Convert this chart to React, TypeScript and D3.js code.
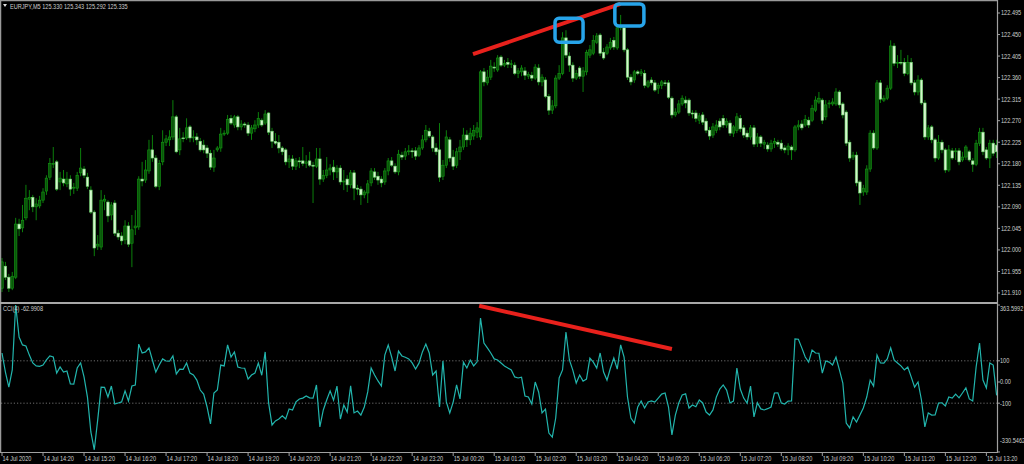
import * as d3 from "d3";

// EURJPY M5 candles, bar 0 = 14 Jul 13:20
const opens = [
  121.920, 121.966, 121.943, 121.920, 121.943, 122.054, 122.046, 122.067, 122.106, 122.110,
  122.090, 122.092, 122.104, 122.123, 122.152, 122.179, 122.184, 122.142, 122.148, 122.138,
  122.148, 122.129, 122.129, 122.161, 122.169, 122.152, 122.125, 122.079, 122.008, 122.006,
  122.102, 122.100, 122.073, 122.098, 122.035, 122.029, 122.021, 122.050, 122.014, 122.046,
  122.048, 122.148, 122.146, 122.165, 122.209, 122.192, 122.133, 122.184, 122.225, 122.230,
  122.236, 122.278, 122.209, 122.234, 122.234, 122.257, 122.234, 122.236, 122.227, 122.219,
  122.213, 122.202, 122.173, 122.209, 122.213, 122.242, 122.244, 122.275, 122.261, 122.278,
  122.257, 122.263, 122.261, 122.244, 122.253, 122.261, 122.271, 122.265, 122.286, 122.248,
  122.227, 122.225, 122.213, 122.209, 122.184, 122.190, 122.175, 122.186, 122.186, 122.181,
  122.186, 122.177, 122.175, 122.190, 122.148, 122.156, 122.167, 122.173, 122.163, 122.171,
  122.142, 122.148, 122.136, 122.161, 122.129, 122.127, 122.115, 122.119, 122.140, 122.163,
  122.154, 122.148, 122.142, 122.165, 122.186, 122.175, 122.163, 122.198, 122.196, 122.205,
  122.207, 122.207, 122.198, 122.213, 122.230, 122.248, 122.236, 122.213, 122.209, 122.154,
  122.177, 122.230, 122.194, 122.177, 122.205, 122.215, 122.240, 122.230, 122.238, 122.246,
  122.236, 122.372, 122.349, 122.361, 122.382, 122.376, 122.403, 122.386, 122.392, 122.388,
  122.386, 122.369, 122.372, 122.374, 122.363, 122.365, 122.359, 122.380, 122.351, 122.355,
  122.321, 122.292, 122.301, 122.359, 122.369, 122.443, 122.405, 122.386, 122.359, 122.380,
  122.363, 122.372, 122.407, 122.411, 122.434, 122.449, 122.413, 122.411, 122.422, 122.438,
  122.422, 122.464, 122.464, 122.418, 122.361, 122.355, 122.372, 122.369, 122.369, 122.342,
  122.355, 122.349, 122.338, 122.344, 122.349, 122.349, 122.317, 122.282, 122.288, 122.305,
  122.313, 122.313, 122.286, 122.286, 122.271, 122.282, 122.269, 122.250, 122.240, 122.250,
  122.269, 122.275, 122.261, 122.265, 122.244, 122.250, 122.275, 122.255, 122.244, 122.236,
  122.255, 122.223, 122.236, 122.221, 122.219, 122.211, 122.223, 122.225, 122.223, 122.213,
  122.209, 122.215, 122.209, 122.257, 122.263, 122.261, 122.271, 122.271, 122.292, 122.309,
  122.313, 122.278, 122.305, 122.305, 122.305, 122.330, 122.305, 122.288, 122.225, 122.194,
  122.198, 122.142, 122.121, 122.121, 122.169, 122.244, 122.213, 122.349, 122.313, 122.317,
  122.338, 122.426, 122.390, 122.392, 122.392, 122.369, 122.392, 122.349, 122.330, 122.355,
  122.307, 122.236, 122.257, 122.230, 122.192, 122.225, 122.209, 122.167, 122.207, 122.205,
  122.207, 122.188, 122.194, 122.205, 122.186, 122.179, 122.223, 122.246, 122.209, 122.192,
  122.223, 122.219,
];
const closes = [
  121.975, 121.943, 121.920, 121.945, 122.054, 122.044, 122.062, 122.108, 122.110, 122.090,
  122.096, 122.104, 122.121, 122.150, 122.181, 122.181, 122.127, 122.150, 122.140, 122.148,
  122.127, 122.131, 122.156, 122.171, 122.156, 122.133, 122.079, 122.004, 122.012, 122.104,
  122.106, 122.071, 122.094, 122.035, 122.027, 122.019, 122.050, 122.012, 122.042, 122.050,
  122.148, 122.144, 122.167, 122.209, 122.192, 122.133, 122.181, 122.225, 122.232, 122.236,
  122.278, 122.205, 122.232, 122.233, 122.255, 122.234, 122.236, 122.230, 122.209, 122.209,
  122.202, 122.173, 122.192, 122.213, 122.242, 122.244, 122.273, 122.265, 122.278, 122.257,
  122.263, 122.261, 122.244, 122.255, 122.261, 122.275, 122.261, 122.284, 122.246, 122.227,
  122.223, 122.213, 122.205, 122.184, 122.190, 122.175, 122.186, 122.184, 122.181, 122.184,
  122.177, 122.175, 122.190, 122.148, 122.156, 122.167, 122.171, 122.163, 122.171, 122.142,
  122.144, 122.136, 122.161, 122.129, 122.127, 122.115, 122.121, 122.138, 122.165, 122.152,
  122.146, 122.140, 122.165, 122.186, 122.177, 122.163, 122.200, 122.194, 122.205, 122.207,
  122.205, 122.196, 122.213, 122.230, 122.250, 122.238, 122.213, 122.205, 122.152, 122.177,
  122.236, 122.192, 122.175, 122.205, 122.215, 122.240, 122.230, 122.244, 122.250, 122.255,
  122.372, 122.351, 122.361, 122.384, 122.380, 122.401, 122.386, 122.390, 122.388, 122.389,
  122.369, 122.374, 122.380, 122.365, 122.367, 122.359, 122.382, 122.351, 122.361, 122.321,
  122.292, 122.301, 122.359, 122.369, 122.443, 122.407, 122.386, 122.359, 122.369, 122.363,
  122.374, 122.413, 122.418, 122.438, 122.447, 122.411, 122.401, 122.424, 122.434, 122.424,
  122.464, 122.468, 122.418, 122.361, 122.351, 122.372, 122.369, 122.372, 122.344, 122.351,
  122.349, 122.334, 122.344, 122.351, 122.348, 122.319, 122.282, 122.288, 122.305, 122.317,
  122.307, 122.286, 122.284, 122.275, 122.280, 122.267, 122.250, 122.238, 122.257, 122.261,
  122.257, 122.261, 122.269, 122.244, 122.257, 122.278, 122.253, 122.240, 122.236, 122.255,
  122.221, 122.236, 122.223, 122.225, 122.211, 122.223, 122.227, 122.221, 122.211, 122.209,
  122.217, 122.209, 122.257, 122.261, 122.255, 122.273, 122.261, 122.296, 122.313, 122.317,
  122.271, 122.303, 122.307, 122.309, 122.330, 122.303, 122.282, 122.223, 122.192, 122.198,
  122.140, 122.119, 122.129, 122.169, 122.244, 122.213, 122.349, 122.315, 122.317, 122.338,
  122.426, 122.390, 122.392, 122.391, 122.369, 122.392, 122.349, 122.330, 122.355, 122.307,
  122.236, 122.255, 122.230, 122.192, 122.225, 122.209, 122.167, 122.209, 122.192, 122.207,
  122.184, 122.194, 122.215, 122.188, 122.179, 122.223, 122.246, 122.205, 122.192, 122.223,
  122.202, 122.205,
];
const highs = [
  121.983, 121.975, 121.950, 121.954, 122.067, 122.065, 122.094, 122.136, 122.125, 122.115,
  122.108, 122.113, 122.129, 122.156, 122.192, 122.215, 122.188, 122.163, 122.167, 122.163,
  122.156, 122.140, 122.163, 122.213, 122.175, 122.161, 122.133, 122.083, 122.031, 122.125,
  122.115, 122.104, 122.100, 122.104, 122.042, 122.037, 122.062, 122.058, 122.073, 122.083,
  122.154, 122.184, 122.188, 122.230, 122.240, 122.198, 122.188, 122.250, 122.240, 122.250,
  122.313, 122.282, 122.255, 122.246, 122.275, 122.261, 122.250, 122.244, 122.234, 122.230,
  122.219, 122.209, 122.209, 122.217, 122.255, 122.250, 122.282, 122.282, 122.282, 122.282,
  122.271, 122.267, 122.267, 122.261, 122.271, 122.288, 122.275, 122.292, 122.288, 122.255,
  122.244, 122.240, 122.217, 122.213, 122.198, 122.198, 122.192, 122.194, 122.215, 122.198,
  122.205, 122.184, 122.213, 122.213, 122.167, 122.194, 122.179, 122.188, 122.177, 122.177,
  122.167, 122.156, 122.167, 122.167, 122.136, 122.133, 122.125, 122.146, 122.171, 122.171,
  122.163, 122.154, 122.171, 122.192, 122.194, 122.181, 122.209, 122.205, 122.213, 122.219,
  122.213, 122.215, 122.219, 122.240, 122.261, 122.255, 122.240, 122.223, 122.265, 122.188,
  122.250, 122.236, 122.209, 122.213, 122.230, 122.255, 122.250, 122.255, 122.261, 122.267,
  122.376, 122.380, 122.376, 122.397, 122.392, 122.407, 122.407, 122.397, 122.401, 122.397,
  122.392, 122.380, 122.386, 122.382, 122.372, 122.372, 122.388, 122.388, 122.367, 122.361,
  122.326, 122.313, 122.365, 122.386, 122.455, 122.459, 122.413, 122.392, 122.376, 122.384,
  122.382, 122.418, 122.428, 122.449, 122.453, 122.453, 122.422, 122.430, 122.443, 122.445,
  122.470, 122.491, 122.468, 122.422, 122.367, 122.376, 122.376, 122.378, 122.376, 122.355,
  122.361, 122.355, 122.349, 122.355, 122.355, 122.355, 122.321, 122.296, 122.313, 122.323,
  122.321, 122.317, 122.292, 122.292, 122.286, 122.288, 122.275, 122.257, 122.265, 122.271,
  122.275, 122.282, 122.275, 122.271, 122.261, 122.286, 122.282, 122.261, 122.250, 122.261,
  122.261, 122.244, 122.240, 122.230, 122.225, 122.230, 122.234, 122.230, 122.230, 122.219,
  122.223, 122.219, 122.261, 122.271, 122.271, 122.282, 122.278, 122.303, 122.321, 122.330,
  122.317, 122.313, 122.313, 122.317, 122.338, 122.334, 122.309, 122.292, 122.230, 122.205,
  122.205, 122.146, 122.136, 122.177, 122.250, 122.250, 122.355, 122.355, 122.323, 122.344,
  122.438, 122.432, 122.407, 122.418, 122.401, 122.407, 122.401, 122.355, 122.365, 122.359,
  122.313, 122.261, 122.261, 122.234, 122.240, 122.230, 122.213, 122.219, 122.213, 122.213,
  122.213, 122.205, 122.219, 122.209, 122.192, 122.230, 122.255, 122.255, 122.215, 122.230,
  122.230, 122.230,
];
const lows = [
  121.912, 121.937, 121.912, 121.916, 121.939, 122.029, 122.037, 122.062, 122.083, 122.079,
  122.062, 122.087, 122.098, 122.115, 122.146, 122.171, 122.123, 122.125, 122.133, 122.131,
  122.113, 122.117, 122.123, 122.154, 122.150, 122.127, 122.075, 121.987, 122.000, 122.000,
  122.083, 122.058, 122.062, 122.029, 122.021, 122.010, 122.012, 122.006, 121.964, 122.031,
  122.042, 122.133, 122.140, 122.159, 122.184, 122.129, 122.125, 122.177, 122.217, 122.217,
  122.230, 122.202, 122.198, 122.225, 122.230, 122.225, 122.225, 122.219, 122.205, 122.202,
  122.192, 122.167, 122.163, 122.205, 122.205, 122.238, 122.240, 122.261, 122.255, 122.250,
  122.250, 122.255, 122.238, 122.230, 122.246, 122.255, 122.257, 122.261, 122.240, 122.213,
  122.219, 122.202, 122.198, 122.177, 122.171, 122.167, 122.167, 122.171, 122.175, 122.171,
  122.173, 122.098, 122.171, 122.136, 122.142, 122.150, 122.156, 122.146, 122.150, 122.136,
  122.125, 122.121, 122.129, 122.104, 122.115, 122.094, 122.108, 122.098, 122.133, 122.146,
  122.136, 122.131, 122.136, 122.156, 122.173, 122.159, 122.156, 122.188, 122.188, 122.198,
  122.192, 122.188, 122.194, 122.209, 122.225, 122.234, 122.205, 122.198, 122.142, 122.146,
  122.171, 122.184, 122.167, 122.171, 122.188, 122.209, 122.215, 122.219, 122.230, 122.234,
  122.230, 122.342, 122.344, 122.355, 122.372, 122.372, 122.382, 122.382, 122.380, 122.380,
  122.365, 122.359, 122.363, 122.355, 122.357, 122.353, 122.355, 122.344, 122.342, 122.317,
  122.282, 122.284, 122.296, 122.355, 122.365, 122.401, 122.372, 122.351, 122.355, 122.357,
  122.330, 122.365, 122.401, 122.407, 122.430, 122.405, 122.397, 122.407, 122.418, 122.418,
  122.418, 122.459, 122.413, 122.355, 122.344, 122.349, 122.365, 122.363, 122.338, 122.338,
  122.344, 122.330, 122.326, 122.336, 122.342, 122.315, 122.275, 122.278, 122.284, 122.301,
  122.296, 122.280, 122.275, 122.267, 122.263, 122.261, 122.244, 122.230, 122.234, 122.244,
  122.250, 122.255, 122.255, 122.238, 122.236, 122.244, 122.246, 122.234, 122.230, 122.230,
  122.215, 122.215, 122.215, 122.211, 122.205, 122.205, 122.213, 122.215, 122.207, 122.202,
  122.198, 122.188, 122.205, 122.250, 122.250, 122.257, 122.255, 122.267, 122.288, 122.305,
  122.263, 122.271, 122.296, 122.301, 122.301, 122.296, 122.275, 122.217, 122.184, 122.188,
  122.133, 122.094, 122.113, 122.115, 122.163, 122.209, 122.209, 122.307, 122.309, 122.313,
  122.334, 122.384, 122.380, 122.386, 122.363, 122.365, 122.344, 122.323, 122.323, 122.303,
  122.230, 122.230, 122.223, 122.184, 122.188, 122.202, 122.161, 122.163, 122.188, 122.188,
  122.177, 122.184, 122.188, 122.184, 122.163, 122.175, 122.217, 122.198, 122.188, 122.171,
  122.196, 122.192,
];

// CCI(4), one value per bar
const cciValues = [
  137, 47, -24, 57, 363.6, 212, 175, 170, 127, 90,
  76, 74, 80, 104, 123, 118, 42, 71, 47, 52,
  -9, -10, 66, 90, 24, -71, -236, -320, -179, -24,
  -25, -71, -19, -104, -99, -94, -42, -90, -19, -14,
  179, 137, 142, 161, 104, 47, 80, 109, 99, 98,
  123, 38, 61, 60, 90, 42, 33, 9, -38, -57,
  -118, -198, -52, -38, 80, 76, 175, 118, 142, 71,
  66, 65, 14, 33, 42, 90, 32, 142, -99, -203,
  -184, -175, -160, -174, -127, -132, -94, -80, -76, -66,
  -75, -76, -14, -212, -132, -85, -42, -86, -19, -175,
  -109, -142, -18, -146, -137, -156, -118, -47, 66, 33,
  5, -19, 127, 175, 118, 52, 146, 123, 117, 109,
  90, 61, 89, 142, 179, 137, 33, 52, -118, 99,
  -94, -146, -95, -14, -80, 94, 66, 104, 76, 95,
  302, 184, 161, 137, 109, 104, 90, 76, 66, 57,
  24, 19, 23, -66, -71, -104, 0, -47, -146, -128,
  -241, -260, -170, 19, 57, 236, 104, 56, -5, 33,
  4, 14, 113, 94, 66, 137, 47, 9, 65, 113,
  61, 175, 118, -71, -170, -194, -118, -90, -123, -94,
  -89, -95, -76, -57, -52, -118, -250, -156, -99, -61,
  -56, -123, -109, -117, -85, -99, -142, -156, -132, -71,
  -33, -14, -38, -99, -90, 66, -33, -76, -100, -19,
  -165, -98, -127, -132, -126, -118, -52, -51, -99, -104,
  -90, -89, 203, 202, 161, 118, 94, 151, 137, 136,
  42, 99, 94, 80, 118, 57, -5, -194, -217, -165,
  -189, -156, -123, -71, 9, -19, 127, 90, 89, 109,
  161, 104, 90, 76, 57, 71, 24, -24, 0, -85,
  -212, -146, -156, -155, -99, -98, -113, -71, -76, -57,
  -75, -52, -28, -80, -90, 71, 184, 9, -28, 90,
  80, -62.9908,
];

const priceTicks = [
  122.495, 122.45, 122.405, 122.36, 122.315, 122.27, 122.225,
  122.18, 122.135, 122.09, 122.045, 122.0, 121.955, 121.91,
];
const timeLabels = [
  "14 Jul 2020", "14 Jul 14:20", "14 Jul 15:20", "14 Jul 16:20", "14 Jul 17:20",
  "14 Jul 18:20", "14 Jul 19:20", "14 Jul 20:20", "14 Jul 21:20", "14 Jul 22:20",
  "14 Jul 23:20", "15 Jul 00:20", "15 Jul 01:20", "15 Jul 02:20", "15 Jul 03:20",
  "15 Jul 04:20", "15 Jul 05:20", "15 Jul 06:20", "15 Jul 07:20", "15 Jul 08:20",
  "15 Jul 09:20", "15 Jul 10:20", "15 Jul 11:20", "15 Jul 12:20", "15 Jul 13:20",
];
const barsPerLabel = 12;
const cciTicks = [363.5992, 100, 0, -100, -330.5462];
const cciTickLabels = ["363.5992", "100", "0.00", "-100", "-330.5462"];
const cciLevels = [100, -100];

const headerText = "EURJPY,M5  125.330 125.343 125.292 125.335";
const cciTitle = "CCI(4) -62.9908";

// annotations, in bar index / price / cci units
const priceTrend = [[137.8, 122.409], [181, 122.514]];
const highlightBoxes = [
  { from: 161.8, to: 170, top: 122.484, bottom: 122.434 },
  { from: 179.3, to: 187.8, top: 122.514, bottom: 122.468 },
];
const cciTrend = [[139.6, 360], [196, 156]];

const width = 1024;
const height = 464;
const plotRight = 997;
const mainBottom = 302;
const font = "'Liberation Sans',Arial,sans-serif";
const textColor = "#cfcfcf";

// small condensed label, like the terminal's narrow font
function Label({ x, y, children, mid = false }: { x: number; y: number; children: string; mid?: boolean }) {
  return (
    <text
      transform={`translate(${x},${y}) scale(0.8,1)`}
      dy={mid ? "0.35em" : 0}
      fontSize={7}
      fill={textColor}
    >
      {children}
    </text>
  );
}

export default function App() {
  const xScale = d3.scaleLinear().domain([0, 291]).range([2, 2 + 291 * 3.418]);
  const yPrice = d3.scaleLinear().domain([121.91, 122.495]).range([293, 13]);
  const yCci = d3.scaleLinear().domain([-330.5462, 363.5992]).range([452, 305]);

  const cciLine = d3
    .line<number>()
    .x((_, i) => xScale(i))
    .y((v) => yCci(v));

  const bodyW = 2.5;

  return (
    <div style={{ position: "fixed", left: 0, top: 0, width, height, background: "#000" }}>
      <svg width={width} height={height} style={{ display: "block" }} fontFamily={font}>
        <defs>
          <clipPath id="mainClip">
            <rect x={1} y={1} width={plotRight - 1} height={mainBottom - 1} />
          </clipPath>
          <clipPath id="cciClip">
            <rect x={1} y={304} width={plotRight - 1} height={148} />
          </clipPath>
        </defs>
        <rect width={width} height={height} fill="#000" />

        {/* candles */}
        <g clipPath="url(#mainClip)">
          {closes.map((c, i) => {
            const o = opens[i];
            const hi = Math.max(highs[i], o, c);
            const lo = Math.min(lows[i], o, c);
            const x = xScale(i);
            const bull = c >= o;
            const top = yPrice(Math.max(o, c));
            const h = Math.max(0.8, yPrice(Math.min(o, c)) - top);
            return (
              <g key={i}>
                <line x1={x} x2={x} y1={yPrice(hi)} y2={yPrice(lo)} stroke="#0b7f0b" strokeWidth={1} />
                <rect
                  x={x - bodyW / 2}
                  y={top}
                  width={bodyW}
                  height={h}
                  fill={bull ? "#0a560a" : "#d4f6cc"}
                  stroke={bull ? "#139a13" : "#6fd66f"}
                  strokeWidth={0.6}
                />
              </g>
            );
          })}
        </g>

        {/* price annotations */}
        <g clipPath="url(#mainClip)">
          <line
            x1={xScale(priceTrend[0][0])}
            y1={yPrice(priceTrend[0][1])}
            x2={xScale(priceTrend[1][0])}
            y2={yPrice(priceTrend[1][1])}
            stroke="#e8211c"
            strokeWidth={4}
          />
          {highlightBoxes.map((b, i) => (
            <rect
              key={i}
              x={xScale(b.from)}
              y={yPrice(b.top)}
              width={xScale(b.to) - xScale(b.from)}
              height={yPrice(b.bottom) - yPrice(b.top)}
              rx={4}
              fill="none"
              stroke="#27a4ea"
              strokeWidth={3.5}
            />
          ))}
        </g>

        {/* CCI panel */}
        {cciLevels.map((v) => (
          <line
            key={v}
            x1={1}
            x2={plotRight}
            y1={yCci(v)}
            y2={yCci(v)}
            stroke="#8a8a8a"
            strokeWidth={0.8}
            strokeDasharray="1.2 2"
          />
        ))}
        <g clipPath="url(#cciClip)">
          <path d={cciLine(cciValues) ?? ""} fill="none" stroke="#22b5ad" strokeWidth={1.2} />
          <line
            x1={xScale(cciTrend[0][0])}
            y1={yCci(cciTrend[0][1])}
            x2={xScale(cciTrend[1][0])}
            y2={yCci(cciTrend[1][1])}
            stroke="#e8211c"
            strokeWidth={4}
          />
        </g>

        {/* frame */}
        <line x1={0} x2={plotRight} y1={0.5} y2={0.5} stroke="#9a9a9a" strokeWidth={1.5} />
        <line x1={0.5} x2={0.5} y1={0} y2={452} stroke="#9a9a9a" strokeWidth={1.5} />
        <line x1={0} x2={plotRight} y1={303} y2={303} stroke="#a8a8a8" strokeWidth={2.2} />
        <line x1={plotRight + 0.5} x2={plotRight + 0.5} y1={0} y2={453} stroke="#a0a0a0" strokeWidth={1.2} />
        <line x1={0} x2={plotRight + 1} y1={452.5} y2={452.5} stroke="#a0a0a0" strokeWidth={1.2} />

        {/* price axis */}
        {priceTicks.map((p) => (
          <g key={p}>
            <line x1={plotRight} x2={plotRight + 3} y1={yPrice(p)} y2={yPrice(p)} stroke="#a0a0a0" />
            <Label x={plotRight + 4} y={yPrice(p)} mid>
              {p.toFixed(3)}
            </Label>
          </g>
        ))}

        {/* cci axis */}
        {cciTicks.map((v, i) => {
          const y = yCci(v);
          const ty = i === 0 ? y + 4 : i === cciTicks.length - 1 ? y - 11 : y;
          return (
            <g key={v}>
              <line x1={plotRight} x2={plotRight + 3} y1={y} y2={y} stroke="#a0a0a0" />
              <Label x={plotRight + 3} y={ty} mid>
                {cciTickLabels[i]}
              </Label>
            </g>
          );
        })}

        {/* time axis */}
        {timeLabels.map((t, k) => {
          const x = xScale(k * barsPerLabel);
          return (
            <g key={t}>
              <line x1={x} x2={x} y1={452} y2={456} stroke="#a0a0a0" />
              <Label x={x + 0.5} y={461}>
                {t}
              </Label>
            </g>
          );
        })}

        {/* titles */}
        <path d="M3,4 L7,4 L5,7 Z" fill="#e0e0e0" />
        <Label x={10} y={8.5}>
          {headerText}
        </Label>
        <Label x={3} y={311}>
          {cciTitle}
        </Label>
      </svg>
    </div>
  );
}
